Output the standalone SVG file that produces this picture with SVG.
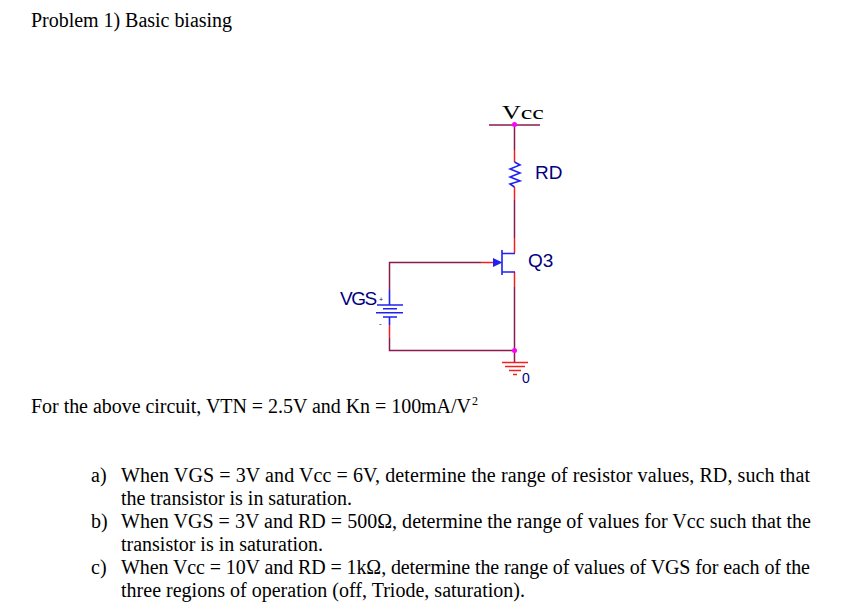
<svg xmlns="http://www.w3.org/2000/svg" width="854" height="608" viewBox="0 0 854 608">
<style>
.t{font-family:"Liberation Serif",serif;font-size:20px;fill:#000}
.s{font-family:"Liberation Sans",sans-serif;fill:#000080}
.w{fill:none;stroke:#8b1a4f;stroke-width:1.5}
.r{fill:none;stroke:#f02020;stroke-width:1.5}
.b{fill:none;stroke:#2020f0;stroke-width:1.6}
.d{fill:#ff00ff}
</style>
<rect width="854" height="608" fill="#fff"/>
<text class="t" x="31" y="27" textLength="201" lengthAdjust="spacing">Problem 1) Basic biasing</text>
<g id="connectors">
<path class="w" d="M514.500 125V150M514.500 200V238M514.500 287V351M389.500 290V262.500H481M389.500 338V350.500H514.500M514.500 351V362"/>
<path class="r" d="M514.500 150V162M514.500 187V200M514.500 238V253M514.500 272V287M481 262.500H493M389.500 325V338"/>
<path class="b" d="M389.500 290V305M389.500 317V325"/>
</g>
<g id="vcc">
<path class="w" d="M489 125H540"/>
<circle class="d" cx="514.500" cy="124.500" r="2.500"/>
<text transform="translate(502 119) scale(1.27 1)" font-family="Liberation Serif,serif" font-size="19" fill="#000" textLength="33" lengthAdjust="spacingAndGlyphs">Vcc</text>
</g>
<g id="rd">
<path class="b" d="M514.500 162L520 165L510 169L520 173L510 177L520 181L510 184L514.500 187"/>
<text class="s" x="535" y="179" font-size="19">RD</text>
</g>
<g id="q3">
<path class="b" d="M502 250V275M502 253.500H515M502 272H515"/>
<path d="M493 258L502.500 262.500L493 267Z" fill="#2020f0"/>
<text class="s" x="528" y="267" font-size="19">Q3</text>
</g>
<g id="vgs">
<path class="b" d="M377 305H403M383 308.700H397M376 312.700H403M383 317H397"/>
<text class="s" x="340" y="305" font-size="19" letter-spacing="-1.500">VGS</text>
<text class="s" x="379" y="302" font-size="7">+</text>
<text class="s" x="379" y="326" font-size="8">-</text>
</g>
<g id="ground">
<circle class="d" cx="514.500" cy="350.500" r="2.500"/>
<path class="r" d="M502 362.500H528M505 366.500H525M509 370.500H521M513 374.500H517"/>
<text x="522" y="383" font-family="Liberation Sans,sans-serif" font-size="14" fill="#000080">0</text>
</g>
<text class="t" x="31" y="413" textLength="440" lengthAdjust="spacing">For the above circuit, VTN = 2.5V and Kn = 100mA/V</text>
<text class="t" x="472" y="405" style="font-size:12px">2</text>
<text class="t" x="91" y="482">a)</text>
<text class="t" x="121" y="482" textLength="689" lengthAdjust="spacing">When VGS = 3V and Vcc = 6V, determine the range of resistor values, RD, such that</text>
<text class="t" x="121" y="505" textLength="231" lengthAdjust="spacing">the transistor is in saturation.</text>
<text class="t" x="91" y="528">b)</text>
<text class="t" x="121" y="528" textLength="690" lengthAdjust="spacing">When VGS = 3V and RD = 500Ω, determine the range of values for Vcc such that the</text>
<text class="t" x="121" y="551" textLength="202" lengthAdjust="spacing">transistor is in saturation.</text>
<text class="t" x="91" y="574">c)</text>
<text class="t" x="121" y="574" textLength="689" lengthAdjust="spacing">When Vcc = 10V and RD = 1kΩ, determine the range of values of VGS for each of the</text>
<text class="t" x="121" y="597" textLength="404" lengthAdjust="spacing">three regions of operation (off, Triode, saturation).</text>
</svg>
